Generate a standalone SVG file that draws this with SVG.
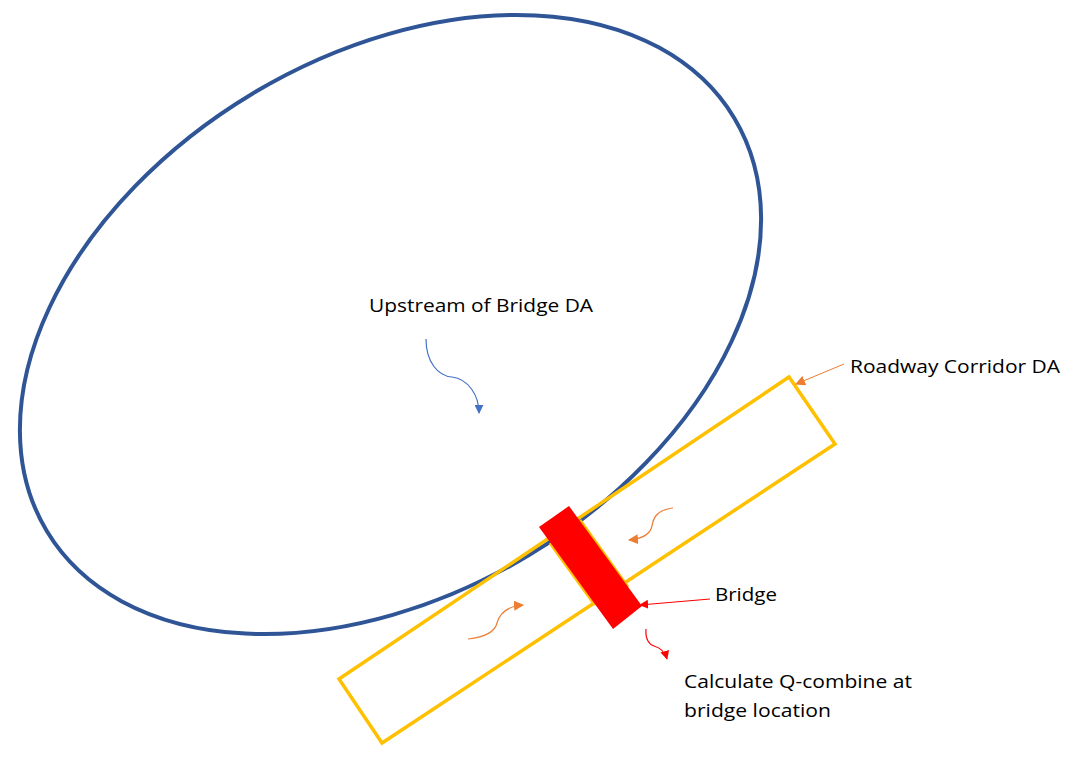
<svg xmlns="http://www.w3.org/2000/svg" width="1077" height="763" viewBox="0 0 1077 763">
<style>
text{font-family:"Open Sans","Liberation Sans",Arial,sans-serif;font-size:19px;fill:#000}
.flow{fill:none;stroke-width:1.2}
</style>
<defs>
<marker id="mb" viewBox="0 0 10 10" refX="9" refY="5" markerWidth="9" markerHeight="9" markerUnits="userSpaceOnUse" orient="auto"><path d="M0,0L10,5L0,10z" fill="#4472C4"/></marker>
<marker id="mo" viewBox="0 0 10 10" refX="9" refY="5" markerWidth="10" markerHeight="10" markerUnits="userSpaceOnUse" orient="auto"><path d="M0,0L10,5L0,10z" fill="#ED7D31"/></marker>
<marker id="mr" viewBox="0 0 10 10" refX="9" refY="5" markerWidth="9" markerHeight="9" markerUnits="userSpaceOnUse" orient="auto"><path d="M0,0L10,5L0,10z" fill="#FF0000"/></marker>
</defs>
<rect width="1077" height="763" fill="#fff"/>
<g id="upstream-da">
<ellipse cx="390.5" cy="324.5" rx="401" ry="269" transform="rotate(-31 390.5 324.5)" fill="none" stroke="#2F5597" stroke-width="4"/>
<text x="369" y="312" textLength="224" lengthAdjust="spacingAndGlyphs">Upstream of Bridge DA</text>
</g>
<g id="roadway-corridor">
<polygon points="339,679 789,377 835,444 382,743" fill="none" stroke="#FFC000" stroke-width="3.5"/>
<text x="850" y="373" textLength="210" lengthAdjust="spacingAndGlyphs">Roadway Corridor DA</text>
</g>
<g id="bridge">
<line x1="580" y1="520" x2="628" y2="587" stroke="#FFC000" stroke-width="3"/>
<line x1="550" y1="543" x2="595" y2="605" stroke="#FFC000" stroke-width="3"/>
<polygon points="539,527 569,506 642,606 613,629" fill="#FF0000"/>
<text x="715" y="601" textLength="62" lengthAdjust="spacingAndGlyphs">Bridge</text>
</g>
<g id="q-combine">
<text x="684" y="688" textLength="228" lengthAdjust="spacingAndGlyphs">Calculate Q-combine at</text>
<text x="684" y="717" textLength="147" lengthAdjust="spacingAndGlyphs">bridge location</text>
</g>
<g id="connectors">
<path class="flow" d="M426,339 C426,362 438,376 452,377 C468,379 479,395 479,413" stroke="#4472C4" marker-end="url(#mb)"/>
<path class="flow" d="M673,508 C655,510 653,520 652,526 C650,535 640,539 629,540" stroke="#ED7D31" marker-end="url(#mo)"/>
<path class="flow" d="M468,639 C485,637 495,632 497,623 C500,612 510,606 523,605" stroke="#ED7D31" marker-end="url(#mo)"/>
<path class="flow" d="M646,629 C645,640 650,645 654,646 C661,648 665,652 667,659" stroke="#FF0000" marker-end="url(#mr)"/>
<line x1="710" y1="599" x2="640" y2="605" stroke="#FF0000" stroke-width="1" marker-end="url(#mr)"/>
<line x1="844" y1="364" x2="796" y2="384" stroke="#ED7D31" stroke-width="1" marker-end="url(#mo)"/>
</g>
</svg>
